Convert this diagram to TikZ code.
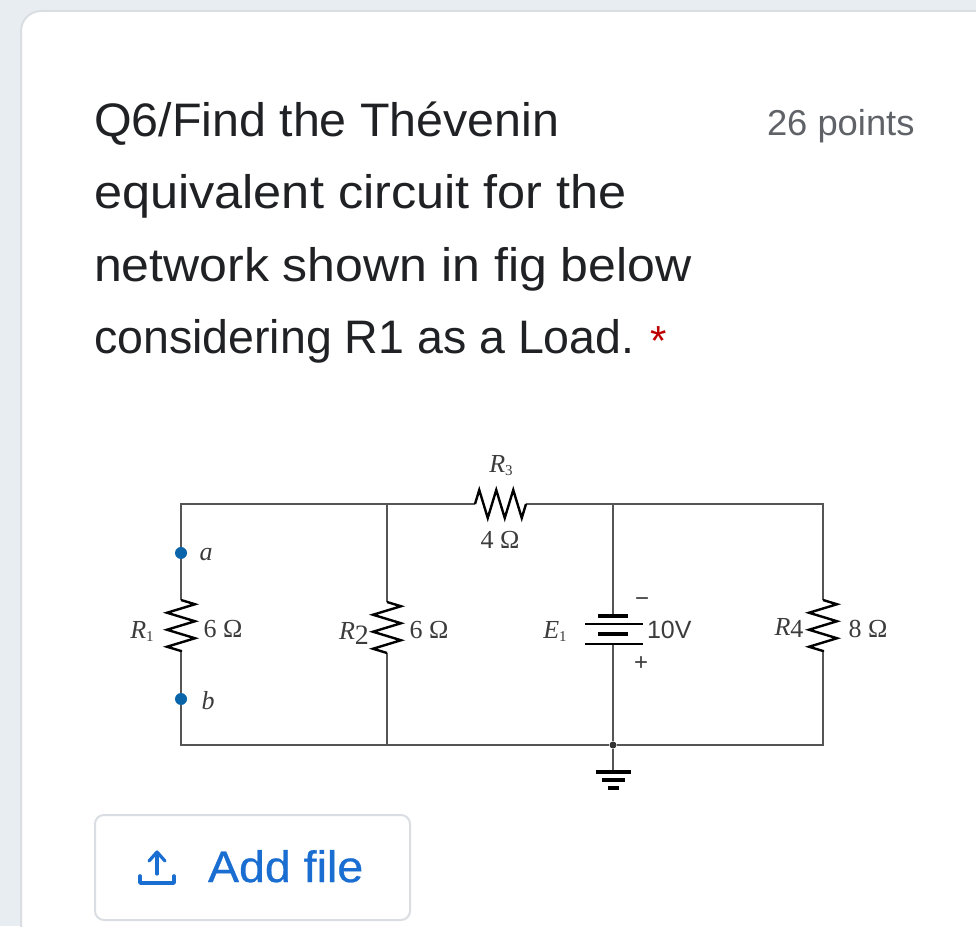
\documentclass[tikz,border=0pt]{standalone}
\usepackage{fontspec}
\setmainfont{Liberation Sans}
\newfontfamily\serifface{Liberation Serif}
\newfontfamily\buttonface[FakeBold=0.6]{Liberation Sans}
\usetikzlibrary{decorations.pathmorphing}
\tikzset{
  wire/.style={draw=wireColor,line width=1.6pt},
  resistor/.style={draw=black,line width=2.4pt,line join=miter,decorate,decoration={zigzag,segment length=17pt,amplitude=#1}},
  resistor/.default=14pt,
  plateThin/.style={draw=black,line width=2pt},
  plateThick/.style={draw=black,line width=3.4pt},
  terminal/.style={circle,fill=dotColor,inner sep=0pt,minimum size=12pt},
  junction/.style={circle,fill=black!80,inner sep=0pt,minimum size=7pt},
  question/.style={anchor=base west,inner sep=0pt,outer sep=0pt,text=titleColor,font=\fontsize{47}{50}\selectfont},
  symbolText/.style={inner sep=0pt,outer sep=0pt,text=labelColor,font=\serifface\fontsize{26}{28}\selectfont},
}
\begin{document}
\begin{tikzpicture}[x=1pt,y=1pt]
\definecolor{pageColor}{RGB}{232,237,242}
\definecolor{edgeColor}{RGB}{218,222,226}
\definecolor{titleColor}{RGB}{32,33,36}
\definecolor{greyColor}{RGB}{95,99,104}
\definecolor{blueColor}{RGB}{26,110,210}
\definecolor{wireColor}{RGB}{85,85,85}
\definecolor{dotColor}{RGB}{10,100,170}
\definecolor{labelColor}{RGB}{60,60,60}
\path[use as bounding box,fill=pageColor] (0,0) rectangle (976,926);
\begin{scope}
\path[clip] (0,0) rectangle (976,926);
\path[draw=edgeColor,line width=2pt,fill=white,rounded corners=20pt] (21,-40) rectangle (1020,915);
\end{scope}

% question text
\node[question,xscale=1.03] (line1) at (94,789) {Q6/Find the Thévenin};
\node[question,xscale=1.074] (line2) at (94,717) {equivalent circuit for the};
\node[question,xscale=1.064] (line3) at (94,644) {network shown in fig below};
\node[question,xscale=0.99] (line4) at (94,572) {considering R1 as a Load.};
\node[anchor=base west,inner sep=0pt,outer sep=0pt,text=red!75!black,font=\fontsize{42}{44}\selectfont] (star) at (650,570) {*};
\node[anchor=base west,inner sep=0pt,outer sep=0pt,text=greyColor,xscale=1.01,font=\fontsize{36}{40}\selectfont] (points) at (767,790) {26 points};

% corners and junctions
\coordinate (tl) at (181,422);
\coordinate (t2) at (387,422);
\coordinate (r3a) at (475,422);
\coordinate (r3b) at (526,422);
\coordinate (t3) at (613,422);
\coordinate (tr) at (823,422);
\coordinate (bl) at (181,181);
\coordinate (b2) at (387,181);
\coordinate (br) at (823,181);
\coordinate (r1a) at (181,326);
\coordinate (r1b) at (181,274);
\coordinate (r2a) at (387,324);
\coordinate (r2b) at (387,273);
\coordinate (r4a) at (823,326);
\coordinate (r4b) at (823,274);
\coordinate (batTop) at (613,310);
\coordinate (batBot) at (613,282);
\coordinate (gndTop) at (613,154);
\node[terminal] (a) at (181,373) {};
\node[terminal] (b) at (181,227) {};
\node[junction] (j) at (613,181) {};

% wires
\draw[wire] (a) -- (tl) -- (t2) -- (r3a);
\draw[wire] (r3b) -- (t3) -- (tr) -- (r4a);
\draw[wire] (a) -- (r1a);
\draw[wire] (r1b) -- (b);
\draw[wire] (b) -- (bl) -- (b2) -- (j) -- (br) -- (r4b);
\draw[wire] (t2) -- (r2a);
\draw[wire] (r2b) -- (b2);
\draw[wire] (t3) -- (batTop);
\draw[wire] (batBot) -- (j);
\draw[wire] (j) -- (gndTop);

% resistors
\draw[resistor] (r1a) -- (r1b);
\draw[resistor] (r2a) -- (r2b);
\draw[resistor] (r3a) -- (r3b);
\draw[resistor] (r4a) -- (r4b);

% battery
\draw[plateThick] (598,310) -- (628,310);
\draw[plateThin] (585,302) -- (643,302);
\draw[plateThick] (598,292) -- (628,292);
\draw[plateThin] (585,282) -- (643,282);

% ground
\draw[plateThick] (596,154) -- (631,154);
\draw[plateThick] (602,146) -- (625,146);
\draw[plateThick] (608,138) -- (619,138);

% labels
\node[symbolText] (nameA) at (206,371) {\itshape a};
\node[symbolText] (nameB) at (208,225) {\itshape b};
\node[symbolText] (nameR1) at (142,295) {\itshape R\raisebox{-3pt}{\fontsize{15}{15}\selectfont\upshape 1}};
\node[symbolText] (valR1) at (223,297) {6 Ω};
\node[symbolText] (nameR2) at (354,293) {\itshape R\raisebox{-5pt}{\fontsize{28}{28}\selectfont\upshape 2}};
\node[symbolText] (valR2) at (429,296) {6 Ω};
\node[symbolText] (nameR3) at (501,460) {\itshape R\raisebox{-3pt}{\fontsize{15}{15}\selectfont\upshape 3}};
\node[symbolText] (valR3) at (500,386) {4 Ω};
\node[symbolText] (nameE1) at (555,295) {\itshape E\raisebox{-3pt}{\fontsize{15}{15}\selectfont\upshape 1}};
\node[symbolText] (nameR4) at (789,298) {\itshape R\raisebox{-2pt}{\upshape 4}};
\node[symbolText] (valR4) at (868,297) {8 Ω};
\node[anchor=base west,inner sep=0pt,outer sep=0pt,text=labelColor,font=\fontsize{25}{27}\selectfont] (volt) at (647,287) {10V};
\node[inner sep=0pt,outer sep=0pt,text=labelColor,font=\fontsize{24}{26}\selectfont] (minus) at (642,324) {−};
\node[inner sep=0pt,outer sep=0pt,text=labelColor,font=\fontsize{24}{26}\selectfont] (plus) at (641,262) {+};

% add file button
\path[draw=edgeColor,line width=2pt,fill=white,rounded corners=9pt] (95,6) rectangle (410,111);
\draw[draw=blueColor,line width=3.6pt,line cap=round,line join=round] (140,50) -- (140,43) -- (174,43) -- (174,50);
\draw[draw=blueColor,line width=3.2pt,line cap=round,line join=round] (157,52) -- (157,72);
\draw[draw=blueColor,line width=3.2pt,line cap=round,line join=round] (149,65) -- (157,74) -- (165,65);
\node[anchor=base west,inner sep=0pt,outer sep=0pt,text=blueColor,xscale=1.058,font=\buttonface\fontsize{44}{46}\selectfont] (addfile) at (208,44) {Add file};
\end{tikzpicture}
\end{document}
